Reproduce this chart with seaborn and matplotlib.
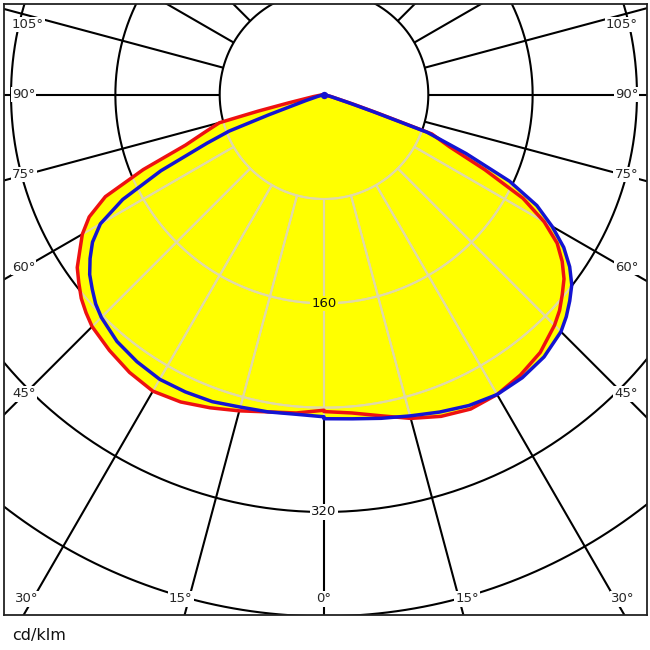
import numpy as np
import pandas as pd
import seaborn as sns
import matplotlib.pyplot as plt

# luminous intensity in cd/klm, gamma angle measured from nadir (0 = straight down)
# C0-C180 plane (red), left and right half
red_left_ang = [0, 5, 10, 15, 20, 25, 30, 35, 40, 45, 47.5, 50, 52.5, 55, 57.5, 60, 62.5, 65, 67.5, 70, 72.5, 75, 76, 77, 80, 85, 90]
red_left_val = [242, 245, 247, 251, 255.5, 260, 262.5, 260, 256, 251.5, 247.5, 243, 237, 231, 222, 214, 203, 185, 150, 113, 96, 83, 52, 28, 8, 2, 0]
red_right_ang = [0, 5, 10, 15, 20, 25, 30, 35, 40, 45, 47.5, 50, 52.5, 55, 57.5, 60, 62.5, 65, 67.5, 70, 71, 72, 75, 80, 90]
red_right_val = [243, 245, 250, 257, 262.5, 266, 265.5, 262.5, 258, 250, 245, 238.5, 232, 223, 212, 195, 172, 136, 104, 88, 45, 25, 6, 1, 0]

# C90-C270 plane (blue)
blue_left_ang = [0, 5, 10, 15, 20, 25, 30, 35, 40, 45, 47.5, 50, 52.5, 55, 57.5, 60, 62.5, 65, 67.5, 69, 70, 72, 75, 80, 90]
blue_left_val = [247, 246, 247, 248, 250.5, 251.5, 252, 250, 247, 241.5, 237.5, 232, 226.5, 219, 210.5, 198, 174, 138, 97, 78, 45, 15, 5, 1, 0]
blue_right_ang = [0, 5, 10, 15, 20, 25, 30, 35, 40, 45, 47.5, 50, 52.5, 55, 57.5, 60, 62.5, 65, 67.5, 70, 71, 72, 75, 80, 90]
blue_right_val = [248.5, 249.5, 252, 255, 259, 263, 265.5, 265, 262.5, 257, 252, 246, 239.5, 230, 218, 202, 184, 157, 118, 84, 40, 20, 5, 1, 0]

circle_r = [80, 160, 240, 320, 400]
value_labels = [160, 320]
value_label_bg = ['#ffff00', 'white']
ray_ang = np.arange(-180, 181, 15)
side_label_ang = [45, 60, 75, 90, 105]
bottom_label_ang = [-30, -15, 0, 15, 30]

RED = '#ee1111'
BLUE = '#1414d2'
YELLOW = '#ffff00'
GRID_ON_FILL = '#e0d9a8'

sns.set_theme(style='white')
plt.rcParams['font.family'] = ['DejaVu Sans']

fig = plt.figure(figsize=(6.5, 6.5), dpi=100)
ax = fig.add_axes([4 / 650, 35 / 650, 643 / 650, 611 / 650])
scale = 1.304  # pixels per cd/klm
x0, x1 = -320 / scale, 323 / scale
y0 = -399
y1 = y0 + 611 / scale
ax.set_xlim(x0, x1)
ax.set_ylim(y0, y1)
ax.set_xticks([])
ax.set_yticks([])
for sp in ax.spines.values():
    sp.set_color('#222222')
    sp.set_linewidth(1.3)


def draw_grid(color, zorder, clip=None):
    t = np.linspace(0, 2 * np.pi, 721)
    arts = []
    for r in circle_r:
        arts += ax.plot(r * np.sin(t), -r * np.cos(t), color=color, lw=1.5, zorder=zorder)
    for a in ray_ang:
        g = np.radians(a)
        arts += ax.plot([80 * np.sin(g), 900 * np.sin(g)], [-80 * np.cos(g), -900 * np.cos(g)],
                        color=color, lw=1.5, zorder=zorder, solid_capstyle='butt')
    if clip is not None:
        for art in arts:
            art.set_clip_path(clip)


def outline(l_ang, l_val, r_ang, r_val):
    la = np.radians(l_ang[::-1])
    lv = np.array(l_val[::-1], dtype=float)
    ra = np.radians(r_ang)
    rv = np.array(r_val, dtype=float)
    x = np.concatenate([-lv * np.sin(la), rv * np.sin(ra)])
    y = np.concatenate([-lv * np.cos(la), -rv * np.cos(ra)])
    return x, y


draw_grid('black', 1)

rx, ry = outline(red_left_ang, red_left_val, red_right_ang, red_right_val)
bx, by = outline(blue_left_ang, blue_left_val, blue_right_ang, blue_right_val)

polys = ax.fill(rx, ry, color=YELLOW, lw=0, zorder=2) + ax.fill(bx, by, color=YELLOW, lw=0, zorder=2)
for p in polys:
    draw_grid(GRID_ON_FILL, 3, clip=p)

df = pd.concat([
    pd.DataFrame({'x': rx, 'y': ry, 'plane': 'C0-C180'}),
    pd.DataFrame({'x': bx, 'y': by, 'plane': 'C90-C270'}),
], ignore_index=True)
sns.lineplot(data=df, x='x', y='y', hue='plane', palette={'C0-C180': RED, 'C90-C270': BLUE},
             sort=False, estimator=None, lw=2.5, legend=False, ax=ax, zorder=5)
ax.scatter([0], [0], s=28, color=BLUE, zorder=6, lw=0)
ax.set_xlabel('')
ax.set_ylabel('')

# value labels on the circles
for v, bg in zip(value_labels, value_label_bg):
    ax.text(0, -v, str(v), ha='center', va='center', fontsize=9.5, color='#111111', zorder=7,
            bbox=dict(fc=bg, ec='none', pad=0.8))

# angle labels along the frame
box = dict(fc='white', ec='none', pad=0.8)
xc = 229.5
for a in side_label_ang:
    y = -xc / np.tan(np.radians(a))
    y = min(y, y1 - 16)
    ax.text(x0 + 8 / scale, y, f'{a}°', ha='left', va='center', fontsize=9.5, zorder=7, bbox=box)
    ax.text(x1 - 9 / scale, y, f'{a}°', ha='right', va='center', fontsize=9.5, zorder=7, bbox=box)

for a in bottom_label_ang:
    xb = -y0 * np.tan(np.radians(a)) + 3 * np.sign(a)
    xb = np.clip(xb, x0 + 23 / scale, x1 - 24 / scale)
    ax.text(xb, y0 + 16 / scale, f'{abs(a)}°', ha='center', va='center', fontsize=9.5, zorder=7, bbox=box)

fig.text(12 / 650, 10 / 650, 'cd/klm', ha='left', va='baseline', fontsize=11.5, color='#111111')

fig.savefig('out.png', dpi=100, facecolor='white')
